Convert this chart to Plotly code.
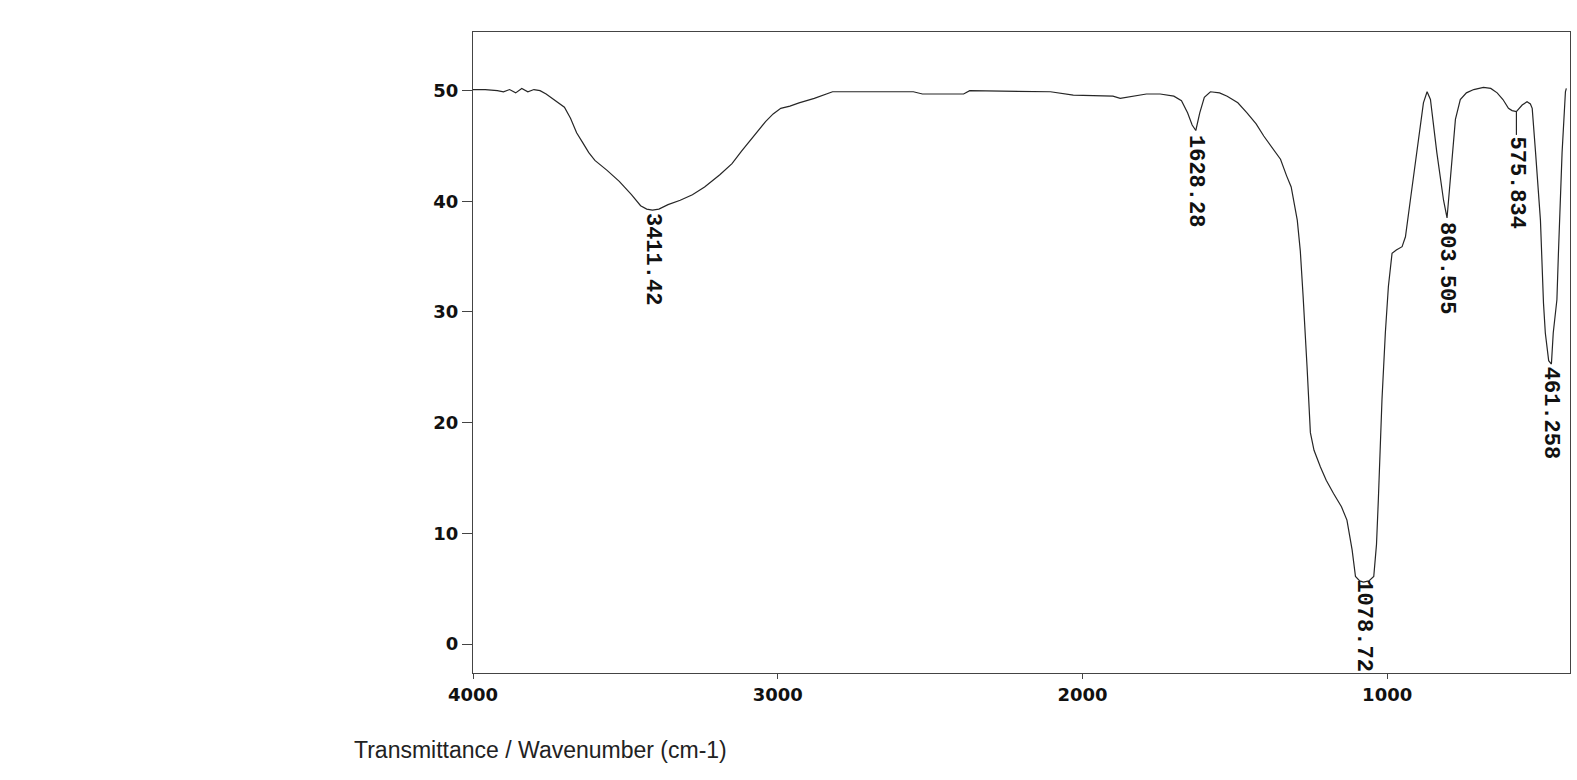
import plotly.graph_objects as go

wavenumber = [4000, 3960, 3920, 3900, 3880, 3860, 3840, 3820, 3800, 3780, 3760, 3740, 3720, 3700,
              3680, 3660, 3640, 3620, 3600, 3560, 3520, 3480, 3450, 3430, 3411, 3390, 3360, 3320,
              3280, 3240, 3190, 3150, 3120, 3080, 3040, 3015, 2990, 2960, 2930, 2880, 2820, 2700,
              2555, 2525, 2390, 2370, 2250, 2105, 2030, 1950, 1900, 1876, 1833, 1790, 1745, 1700,
              1675, 1655, 1640, 1628, 1615, 1600, 1580, 1550, 1525, 1490, 1460, 1430, 1405, 1380,
              1350, 1330, 1315, 1295, 1285, 1276, 1270, 1263, 1252, 1240, 1219, 1200, 1176, 1150,
              1132, 1115, 1104, 1090, 1078, 1060, 1044, 1035, 1029, 1017, 1006, 1000, 996, 984,
              970, 951, 940, 924, 902, 881, 869, 858, 837, 815, 803.5, 793, 776, 760, 740, 716,
              684, 660, 639, 620, 602, 590, 576, 557, 541, 530, 524, 513, 497, 487, 481, 470,
              461, 455, 443, 438, 426, 415, 412]

transmittance = [50.1, 50.1, 50.0, 49.9, 50.1, 49.8, 50.2, 49.9, 50.1, 50.0, 49.7, 49.3, 48.9, 48.5,
                 47.5, 46.2, 45.3, 44.4, 43.7, 42.8, 41.8, 40.6, 39.6, 39.3, 39.2, 39.3, 39.7, 40.1,
                 40.6, 41.3, 42.4, 43.4, 44.5, 45.9, 47.2, 47.9, 48.4, 48.6, 48.9, 49.3, 49.9, 49.9,
                 49.9, 49.7, 49.7, 50.0, 49.95, 49.9, 49.6, 49.5, 49.5, 49.3, 49.5, 49.7, 49.7, 49.5,
                 49.1, 48.0, 46.9, 46.4, 48.0, 49.4, 49.9, 49.8, 49.5, 48.9, 48.0, 47.0, 45.9, 44.9,
                 43.8, 42.3, 41.3, 38.3, 35.5, 31.5, 29.0, 25.1, 19.1, 17.5, 16.0, 14.8, 13.6, 12.4,
                 11.2, 8.5, 6.1, 5.7, 5.6, 5.7, 6.1, 9.0, 13.0, 22.1, 28.1, 31.1, 32.3, 35.3,
                 35.6, 35.9, 36.8, 40.1, 44.4, 48.9, 49.9, 49.2, 44.4, 40.1, 38.5, 42.0, 47.4, 49.2,
                 49.8, 50.1, 50.3, 50.2, 49.8, 49.2, 48.4, 48.2, 48.1, 48.7, 49.0, 48.8, 48.4, 44.4,
                 38.3, 30.8, 28.1, 25.6, 25.3, 28.1, 31.1, 35.3, 44.4, 49.9, 50.2]

peak_labels = ["3411.42", "1628.28", "1078.72", "803.505", "575.834", "461.258"]
peak_x = [3411.42, 1628.28, 1078.72, 803.505, 575.834, 461.258]
peak_label_top = [39.1, 46.2, 6.0, 38.3, 46.0, 25.2]
peak_curve_y = [39.2, 46.4, 5.6, 38.5, 48.1, 25.3]

y_ticks = [0, 10, 20, 30, 40, 50]
x_ticks = [4000, 3000, 2000, 1000]

fig = go.Figure()
fig.add_trace(go.Scatter(x=wavenumber, y=transmittance, mode="lines",
                         line=dict(color="#262626", width=1.2), showlegend=False))

for lbl, px, top, cy in zip(peak_labels, peak_x, peak_label_top, peak_curve_y):
    fig.add_annotation(x=px, y=top, text="<b>" + lbl + "</b>", showarrow=False, textangle=90,
                       xanchor="center", yanchor="top", xref="x", yref="y",
                       font=dict(family="Liberation Mono", size=22, color="#111"))
    if cy - top > 0.5:
        fig.add_shape(type="line", x0=px, x1=px, y0=cy, y1=top, xref="x", yref="y",
                      line=dict(color="#262626", width=1.2))

fig.add_annotation(text="Transmittance / Wavenumber (cm-1)", xref="paper", yref="paper",
                   x=-0.1103, y=-0.12, xanchor="left", yanchor="middle", showarrow=False,
                   font=dict(family="Liberation Sans", size=23, color="#222"))

fig.update_xaxes(range=[4000, 400], tickvals=x_ticks, ticktext=[str(v) for v in x_ticks],
                 ticks="outside", ticklen=5, tickcolor="#444", showline=True, linecolor="#444",
                 linewidth=1.2, mirror=True, showgrid=False, zeroline=False,
                 tickfont=dict(family="DejaVu Sans", size=18, color="#111", weight="bold"))
fig.update_yaxes(range=[-2.62, 55.3], tickvals=y_ticks, ticktext=[str(v) for v in y_ticks],
                 ticks="outside", ticklen=10, tickcolor="#444", showline=True, linecolor="#444",
                 linewidth=1.2, mirror=True, showgrid=False, zeroline=False,
                 tickfont=dict(family="DejaVu Sans", size=18, color="#111", weight="bold"))

fig.update_layout(width=1577, height=780, paper_bgcolor="white", plot_bgcolor="white",
                  margin=dict(l=473, r=7, t=32, b=107), showlegend=False)

fig.write_html("out.html")
